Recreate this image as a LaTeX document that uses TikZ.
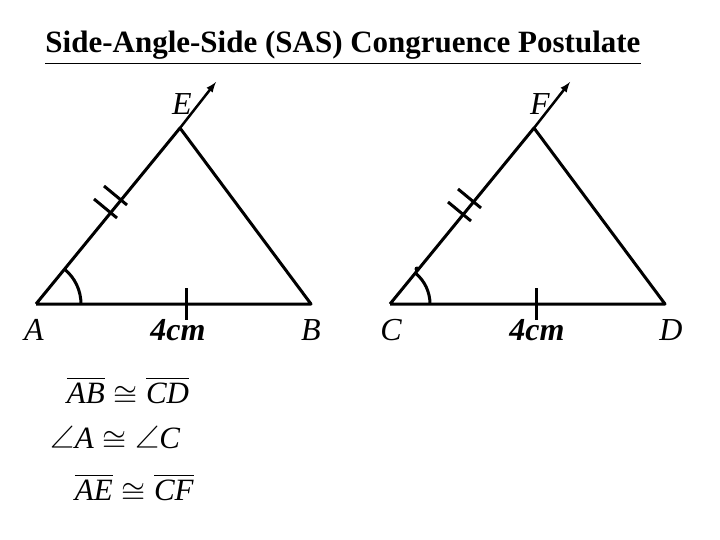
\documentclass[tikz,border=0pt]{standalone}
\usepackage{fontspec}
\setmainfont{Liberation Serif}
\usepackage{amssymb}
\usepackage{unicode-math}
\setmathfont{Latin Modern Math}
\begin{document}
\begin{tikzpicture}[x=1pt,y=-1pt,line width=3pt,
  lbl/.style={font=\fontsize{32}{36}\selectfont\itshape},
  eq/.style={font=\fontsize{31}{36}\selectfont, anchor=west}]
\useasboundingbox (0,0) rectangle (720,540);
\node[font=\fontsize{31}{36}\selectfont\bfseries] (t) at (343,48) {\underline{Side-Angle-Side (SAS) Congruence Postulate}};
% triangle 1
\coordinate (A) at (36,304); \coordinate (B) at (311,304); \coordinate (E) at (180,128);
\coordinate (Et) at (216,82);
\draw[line join=round] (A) -- (B) -- (E) -- (A);
\draw[-latex,line width=2.5pt] (E) -- (Et);
\draw (104,186) -- ++(23,19) (94,199) -- ++(23,19);
\draw (186,288) -- (186,320);
\draw (A) ++(45,0) arc[start angle=0,end angle=-51,radius=45];
% triangle 2
\coordinate (C) at (390,304); \coordinate (D) at (665,304); \coordinate (F) at (534,128);
\coordinate (Ft) at (570,82);
\draw[line join=round] (C) -- (D) -- (F) -- (C);
\draw[-latex,line width=2.5pt] (F) -- (Ft);
\draw (458,189) -- ++(23,19) (448,202) -- ++(23,19);
\draw (536,288) -- (536,320);
\draw (C) ++(40,0) arc[start angle=0,end angle=-51,radius=40];
\fill (417,269) circle (2.5pt);
% labels
\node[lbl] (lE) at (182,104) {E};
\node[lbl] (lF) at (540,104) {F};
\node[lbl] (lA) at (34,330) {A};
\node[lbl] (lB) at (311,330) {B};
\node[lbl] (lC) at (391,330) {C};
\node[lbl] (lD) at (671,330) {D};
\node[lbl,font=\fontsize{32}{36}\selectfont\bfseries\itshape] (c1) at (178,330) {4cm};
\node[lbl,font=\fontsize{32}{36}\selectfont\bfseries\itshape] (c2) at (537,330) {4cm};
% equations
\node[eq] (e1) at (62,390) {$\overline{\mathit{AB}}\cong\overline{\mathit{CD}}$};
\node[eq] (e2) at (46,437) {$\angle \mathit{A}\cong\angle \mathit{C}$};
\node[eq] (e3) at (70,487) {$\overline{\mathit{AE}}\cong\overline{\mathit{CF}}$};
\end{tikzpicture}
\end{document}
